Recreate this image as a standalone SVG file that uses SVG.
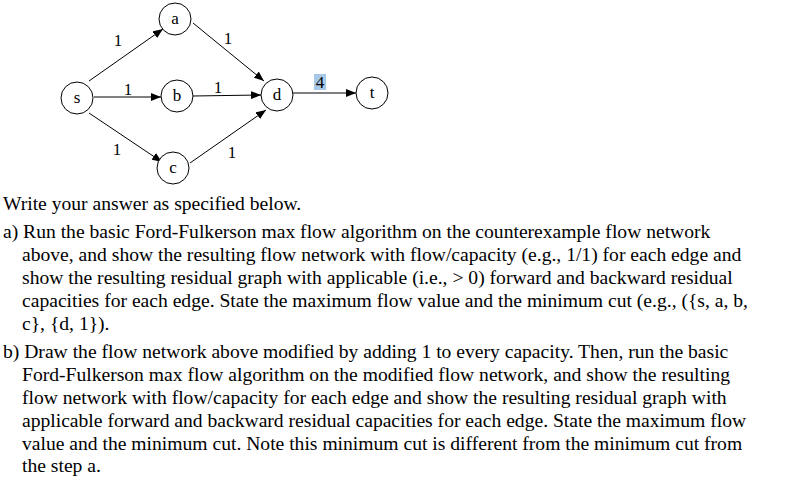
<svg xmlns="http://www.w3.org/2000/svg" width="811" height="490" viewBox="0 0 811 490">
<style>
.n circle{fill:#fff;stroke:#000;stroke-width:1}
.n text,.el{font-family:"Liberation Serif",serif;font-size:17px;text-anchor:middle}
.e line{stroke:#000;stroke-width:1;marker-end:url(#ar)}
.t{font-family:"Liberation Serif",serif;font-size:19.6px}
</style>
<defs><marker id="ar" markerWidth="10" markerHeight="8" refX="10" refY="4" orient="auto" markerUnits="userSpaceOnUse"><path d="M0,0L10,4L0,8z"/></marker></defs>
<rect width="811" height="490" fill="#fff"/>
<g class="e" id="edges">
<line x1="89" y1="81" x2="163" y2="29"/>
<line x1="193" y1="23" x2="264" y2="81"/>
<line x1="94" y1="97" x2="161" y2="97"/>
<line x1="193" y1="96" x2="261" y2="95"/>
<line x1="293" y1="93" x2="356" y2="93"/>
<line x1="89" y1="113" x2="162" y2="162"/>
<line x1="190" y1="163" x2="266" y2="110"/>
</g>
<g id="labels">
<text class="el" x="118" y="46">1</text>
<text class="el" x="228" y="44">1</text>
<text class="el" x="128" y="95">1</text>
<text class="el" x="218" y="93">1</text>
<rect x="314" y="74" width="12" height="16" fill="#a8c8e8"/>
<text class="el" x="320" y="88">4</text>
<text class="el" x="117" y="155">1</text>
<text class="el" x="232" y="158">1</text>
</g>
<g class="n" id="s"><circle cx="77" cy="98" r="16"/><text x="77" y="103">s</text></g>
<g class="n" id="a"><circle cx="175" cy="19" r="16"/><text x="175" y="24">a</text></g>
<g class="n" id="b"><circle cx="177" cy="96" r="16"/><text x="177" y="101">b</text></g>
<g class="n" id="c"><circle cx="173" cy="168" r="16"/><text x="173" y="173">c</text></g>
<g class="n" id="d"><circle cx="277" cy="95" r="16"/><text x="277" y="100">d</text></g>
<g class="n" id="t"><circle cx="372" cy="93" r="16"/><text x="372" y="98">t</text></g>
<g class="t">
<text x="3" y="210">Write your answer as specified below.</text>
<text x="3" y="238">a) Run the basic Ford-Fulkerson max flow algorithm on the counterexample flow network</text>
<text x="22" y="261">above, and show the resulting flow network with flow/capacity (e.g., 1/1) for each edge and</text>
<text x="22" y="284">show the resulting residual graph with applicable (i.e., &gt; 0) forward and backward residual</text>
<text x="22" y="307">capacities for each edge. State the maximum flow value and the minimum cut (e.g., ({s, a, b,</text>
<text x="22" y="330">c}, {d, 1}).</text>
<text x="3" y="358">b) Draw the flow network above modified by adding 1 to every capacity. Then, run the basic</text>
<text x="22" y="381">Ford-Fulkerson max flow algorithm on the modified flow network, and show the resulting</text>
<text x="22" y="404">flow network with flow/capacity for each edge and show the resulting residual graph with</text>
<text x="22" y="427">applicable forward and backward residual capacities for each edge. State the maximum flow</text>
<text x="22" y="450">value and the minimum cut. Note this minimum cut is different from the minimum cut from</text>
<text x="22" y="472">the step a.</text>
</g>
</svg>
